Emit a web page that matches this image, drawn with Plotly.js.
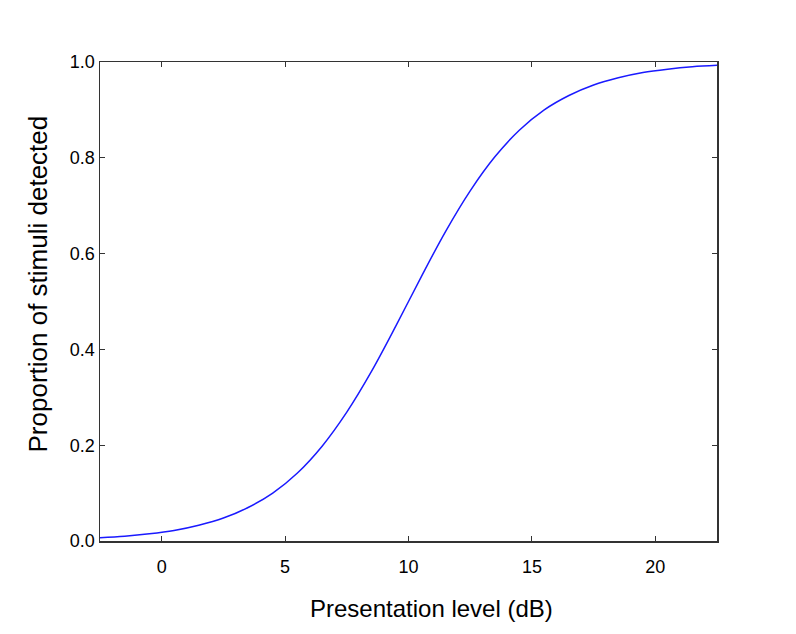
<!DOCTYPE html>
<html>
<head>
<meta charset="utf-8">
<script src="https://cdn.plot.ly/plotly-3.0.1.min.js"></script>
<style>html,body{margin:0;padding:0;background:#fff;}#chart{width:796px;height:634px;}</style>
</head>
<body>
<div id="chart"></div>
<script>
// Presentation level (dB)
const levels = [-2.5, -1.5, -0.5, 0.5, 1.5, 2.5, 3.5, 4.5, 5.5, 6.5, 7.5, 8.5, 9.5,
                10.5, 11.5, 12.5, 13.5, 14.5, 15.5, 16.5, 17.5, 18.5, 19.5, 20.5, 21.5, 22.5];
// Proportion of stimuli detected
const proportions = [0.007, 0.010, 0.015, 0.022, 0.033, 0.048, 0.070, 0.100, 0.142, 0.198, 0.269, 0.354, 0.450,
                     0.550, 0.646, 0.731, 0.802, 0.858, 0.900, 0.930, 0.952, 0.967, 0.978, 0.985, 0.990, 0.993];
const xTicks = [0, 5, 10, 15, 20];
const yTicks = [0.0, 0.2, 0.4, 0.6, 0.8, 1.0];
const xTitle = 'Presentation level (dB)';
const yTitle = 'Proportion of stimuli detected';

const trace = {
  x: levels, y: proportions, type: 'scatter', mode: 'lines',
  line: {color: '#1a1aff', width: 1.5, shape: 'spline', smoothing: 1},
  hoverinfo: 'skip'
};
const fam = '"Liberation Sans", Arial, sans-serif';
const layout = {
  width: 796, height: 634,
  margin: {l: 100, r: 79, t: 62, b: 93},
  paper_bgcolor: '#fff', plot_bgcolor: '#fff',
  showlegend: false,
  font: {family: fam, color: '#000'},
  xaxis: {
    range: [-2.5, 22.5], tickvals: xTicks, ticktext: xTicks.map(String),
    ticks: 'inside', ticklen: 5, tickcolor: '#333', mirror: 'allticks',
    showline: true, linecolor: '#333', linewidth: 1.5, showgrid: false, zeroline: false,
    ticklabelstandoff: 9,
    tickfont: {size: 18, family: fam, color: '#000'}
  },
  yaxis: {
    range: [0, 1], tickvals: yTicks, ticktext: yTicks.map(v => v.toFixed(1)),
    ticks: 'inside', ticklen: 5, tickcolor: '#333', mirror: 'allticks',
    showline: true, linecolor: '#333', linewidth: 1.5, showgrid: false, zeroline: false,
    ticklabelstandoff: 0,
    tickfont: {size: 18, family: fam, color: '#000'}
  },
  annotations: [
    {text: xTitle, xref: 'paper', yref: 'paper', x: 0.538, y: -0.140,
     xanchor: 'center', yanchor: 'middle', showarrow: false,
     font: {size: 24, family: fam, color: '#000'}},
    {text: yTitle, xref: 'paper', yref: 'paper', x: -0.0989, y: 0.5376, textangle: -90,
     xanchor: 'center', yanchor: 'middle', showarrow: false,
     font: {size: 26, family: fam, color: '#000'}}
  ]
};
Plotly.newPlot('chart', [trace], layout, {displayModeBar: false, staticPlot: true});
</script>
</body>
</html>
